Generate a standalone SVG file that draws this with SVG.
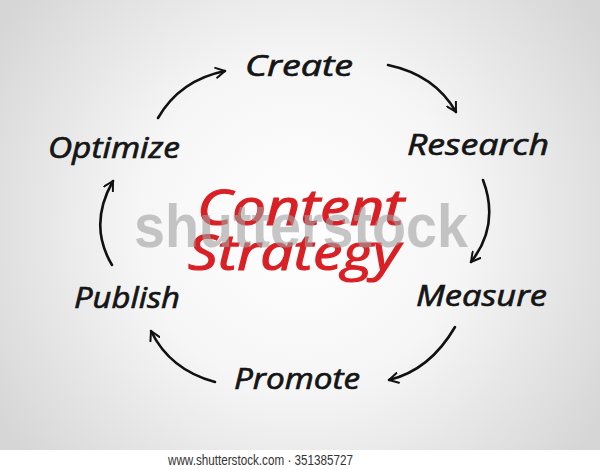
<svg xmlns="http://www.w3.org/2000/svg" width="600" height="470" viewBox="0 0 600 470">
<defs>
<radialGradient id="bg" cx="300" cy="225" r="360" gradientUnits="userSpaceOnUse">
<stop offset="0" stop-color="#ffffff"/>
<stop offset="0.45" stop-color="#f6f6f6"/>
<stop offset="1" stop-color="#d6d6d6"/>
</radialGradient>
<marker id="ah" viewBox="0 0 12 12" refX="10" refY="6" markerWidth="12" markerHeight="12" markerUnits="userSpaceOnUse" orient="auto">
<polyline points="1,1 10,6 1,11" fill="none" stroke="#111" stroke-width="2" stroke-linecap="round" stroke-linejoin="round"/>
</marker>
<style>
.lbl{font-family:"Open Sans","Liberation Sans",sans-serif;font-size:30px;fill:#151515;stroke:#151515;stroke-width:0.7;font-style:italic}
.title{font-family:"Open Sans","Liberation Sans",sans-serif;font-size:50px;fill:#d92025;stroke:#d92025;stroke-width:1.2;font-style:italic}
.arr{fill:none;stroke:#111;stroke-width:2.6;stroke-linecap:round;marker-end:url(#ah)}
</style>
</defs>
<rect x="0" y="0" width="600" height="450" fill="url(#bg)"/>
<rect x="0" y="450" width="600" height="20" fill="#ffffff"/>
<g id="title">
<text class="title" x="197" y="225" textLength="207" lengthAdjust="spacingAndGlyphs">Content</text>
<text class="title" x="188" y="270" textLength="212" lengthAdjust="spacingAndGlyphs">Strategy</text>
</g>
<g id="connectors">
<path class="arr" d="M158,118 Q180,80 225,71"/>
<path class="arr" d="M388,65 Q435,75 456,112"/>
<path class="arr" d="M483,180 Q500,225 471,262"/>
<path class="arr" d="M455,327 Q430,370 389,380"/>
<path class="arr" d="M215,382 Q170,370 151,331"/>
<path class="arr" d="M112,265 Q88,225 113,181"/>
</g>
<g id="create"><text class="lbl" x="245" y="76" textLength="108" lengthAdjust="spacingAndGlyphs">Create</text></g>
<g id="research"><text class="lbl" x="407" y="155" textLength="142" lengthAdjust="spacingAndGlyphs">Research</text></g>
<g id="measure"><text class="lbl" x="416" y="306" textLength="131" lengthAdjust="spacingAndGlyphs">Measure</text></g>
<g id="promote"><text class="lbl" x="234" y="389" textLength="126" lengthAdjust="spacingAndGlyphs">Promote</text></g>
<g id="publish"><text class="lbl" x="74" y="308" textLength="106" lengthAdjust="spacingAndGlyphs">Publish</text></g>
<g id="optimize"><text class="lbl" x="48" y="158" textLength="132" lengthAdjust="spacingAndGlyphs">Optimize</text></g>
<g id="watermark">
<text x="134" y="247" textLength="334" lengthAdjust="spacingAndGlyphs" font-family="'Liberation Sans',Arial,sans-serif" font-weight="bold" font-size="62" fill="#a0a0a0" fill-opacity="0.6">shutterstock</text>
</g>
<g id="footer">
<text x="168" y="465" textLength="185" lengthAdjust="spacingAndGlyphs" font-family="'Liberation Sans',Arial,sans-serif" font-size="14" fill="#333333">www.shutterstock.com · 351385727</text>
</g>
</svg>
